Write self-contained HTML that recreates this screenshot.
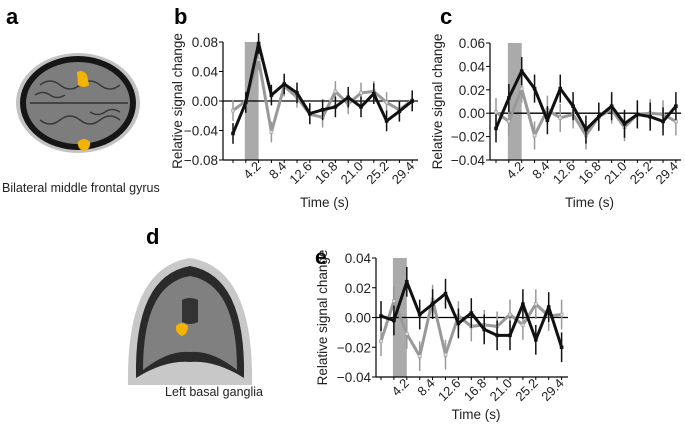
<!DOCTYPE html>
<html><head><meta charset="utf-8"><style>
body{margin:0;background:#fff;}
svg{display:block;font-family:"Liberation Sans",sans-serif;}
</style></head><body>
<svg id="fig" width="685" height="428" viewBox="0 0 685 428">
<g>
<text x="6" y="24" font-size="22" font-weight="bold">a</text>
<ellipse cx="78" cy="103" rx="62" ry="50" fill="#9a9a9a" opacity="0.6"/>
<ellipse cx="78" cy="103" rx="58" ry="47" fill="#161616"/>
<ellipse cx="78" cy="103" rx="52" ry="41" fill="#7d7d7d"/>
<path d="M30 103 H128" stroke="#444" stroke-width="2"/>
<path d="M40 85 q10 -8 20 0 t20 0 t20 0 t20 0 M40 120 q10 8 20 0 t20 0 t20 0 t20 0 M35 95 q8 -5 15 0 t15 0 M90 112 q8 5 15 0 t15 0" stroke="#3a3a3a" stroke-width="1.5" fill="none"/>
<path d="M77 72 q6 -3 10 3 l2 10 q-5 4 -11 0 z" fill="#f2b400"/>
<path d="M78 142 q6 -6 12 0 q1 7 -6 9 q-7 -2 -6 -9 z" fill="#f2b400"/>
<text x="2" y="192" font-size="12.5" fill="#222">Bilateral middle frontal gyrus</text>
</g>
<g>
<text x="146" y="244" font-size="22" font-weight="bold">d</text>
<path d="M128 385 Q126 268 190 258 Q254 268 252 385 Z" fill="#c8c8c8"/>
<path d="M136 378 Q134 276 190 266 Q246 276 244 378 Q215 360 190 362 Q165 360 136 378 Z" fill="#2a2a2a"/>
<path d="M143 370 Q143 284 190 276 Q237 284 237 370 Q212 350 190 352 Q168 350 143 370 Z" fill="#808080"/>
<path d="M182 300 q8 -4 16 0 v22 q-8 4 -16 0 z" fill="#333"/>
<path d="M176 326 q6 -6 12 0 q0 8 -6 10 q-7 -3 -6 -10z" fill="#f2b400"/>
<text x="165" y="396" font-size="12.5" fill="#222">Left basal ganglia</text>
</g>
<text x="174" y="24" font-size="22" font-weight="bold">b</text>
<text x="440" y="24" font-size="22" font-weight="bold">c</text>
<text x="315" y="264" font-size="21" font-weight="bold">e</text>
</svg>
<script>
const timeLabels=["4.2","8.4","12.6","16.8","21.0","25.2","29.4"];
const bTicks=[0.08,0.04,0.00,-0.04,-0.08];
const bBlack=[-0.044,-0.002,0.078,0.008,0.023,0.011,-0.017,-0.012,-0.008,0.005,-0.008,0.01,-0.027,-0.014,0.0];
const bGray=[-0.013,0,0.056,-0.042,0.02,0.005,-0.018,-0.022,0.013,-0.004,0.011,0.013,-0.002,-0.012,0.001];
const cTicks=[0.06,0.04,0.02,0.00,-0.02,-0.04];
const cBlack=[-0.013,0.013,0.036,0.021,-0.006,0.021,0.006,-0.014,-0.003,0.006,-0.009,-0.001,-0.003,-0.007,0.006];
const cGray=[0.001,-0.007,0.021,-0.019,0.003,-0.004,-0.001,-0.019,-0.003,0.003,-0.012,-0.001,0,-0.001,-0.007];
const eTicks=[0.04,0.02,0.00,-0.02,-0.04];
const eBlack=[0.001,-0.002,0.024,0.002,0.009,0.016,-0.004,0.003,-0.008,-0.012,-0.012,0.009,-0.015,0.007,-0.02];
const eGray=[-0.016,0.011,-0.011,-0.026,0.012,-0.025,0.001,-0.006,-0.005,-0.006,0.002,-0.005,0.009,0.001,0.002];
const bErr=0.014,cErr=0.012,eErr=0.01;
const NS="http://www.w3.org/2000/svg";
const svg=document.getElementById('fig');
function mk(tag,attrs,parent){const e=document.createElementNS(NS,tag);for(const k in attrs)e.setAttribute(k,attrs[k]);(parent||svg).appendChild(e);return e;}
function panel(id,cfg,black,gray,ticks,err){
 const g=mk('g',{});
 
 
 const ymin=ticks[ticks.length-1],ymax=ticks[0];
 const y=v=>cfg.bottom-(v-ymin)/(ymax-ymin)*(cfg.bottom-cfg.top);
 const x=i=>cfg.x0+i*cfg.dx;
 const bar=mk('rect',{x:x(1)-1,y:cfg.top,width:cfg.dx+1,height:cfg.bottom-cfg.top,fill:'#aaa'},g);
 
 
 const ya=mk('line',{x1:cfg.left,x2:cfg.left,y1:cfg.top,y2:cfg.bottom,stroke:'#000','stroke-width':1.2},g);
 
 
 const xa=mk('line',{x1:cfg.left,x2:cfg.right,y1:cfg.bottom,y2:cfg.bottom,stroke:'#000','stroke-width':1.2},g);
 
 
 const zl=mk('line',{x1:cfg.left,x2:cfg.right,y1:y(0),y2:y(0),stroke:'#000','stroke-width':1.3},g);
 
 
 ticks.forEach(t=>{
  mk('line',{x1:cfg.left-4,x2:cfg.left,y1:y(t),y2:y(t),stroke:'#000'},g);
  const tx=mk('text',{x:cfg.left-5,y:y(t)+5,'font-size':13.5,'text-anchor':'end',fill:'#222'},g);
  tx.textContent=(t<0?'\u2212':'')+Math.abs(t).toFixed(2);
  
  
 });
 for(let i=0;i<15;i++)mk('line',{x1:x(i),x2:x(i),y1:cfg.bottom,y2:cfg.bottom+3,stroke:'#000'},g);
 timeLabels.forEach((l,k)=>{
  const i=2*(k+1);
  const tx=mk('text',{x:x(i)+3,y:cfg.bottom+7,'font-size':13,'text-anchor':'end',fill:'#222',transform:`rotate(-45 ${x(i)+3} ${cfg.bottom+7})`},g);
  tx.textContent=l;
  
  
 });
 const yt=mk('text',{x:cfg.ylx,y:(cfg.top+cfg.bottom)/2,'font-size':13.5,'text-anchor':'middle',fill:'#222',transform:`rotate(-90 ${cfg.ylx} ${(cfg.top+cfg.bottom)/2})`},g);
 yt.textContent='Relative signal change';
 
 
 const xt=mk('text',{x:(cfg.left+cfg.right)/2+4,y:cfg.bottom+cfg.xty,'font-size':13.5,'text-anchor':'middle',fill:'#222'},g);
 xt.textContent='Time (s)';
 
 
 [[gray,'#999','gray'],[black,'#111','black']].forEach(([d,c,n])=>{
  d.forEach((v,i)=>{
   const eb=mk('line',{x1:x(i),x2:x(i),y1:y(v+err),y2:y(v-err),stroke:c,'stroke-width':1.5},g);
   
   
  });
  const pl=mk('polyline',{points:d.map((v,i)=>x(i)+','+y(v)).join(' '),fill:'none',stroke:c,'stroke-width':3,'stroke-linejoin':'miter'},g);
  
  
  d.forEach((v,i)=>{
   const p=mk('rect',{x:x(i)-1.5,y:y(v)-1.5,width:3,height:3,fill:n==='gray'?'#ddd':'#111',stroke:c,'stroke-width':0.6},g);
   
   
  });
 });
}
panel('panel-b',{left:223,right:418,top:42,bottom:160,x0:233,dx:12.8,ylx:182,xty:47},bBlack,bGray,bTicks,bErr);
panel('panel-c',{left:490,right:681,top:43,bottom:160,x0:496,dx:12.85,ylx:442,xty:47},cBlack,cGray,cTicks,cErr);
panel('panel-e',{left:376,right:568,top:258,bottom:377,x0:381,dx:12.9,ylx:327,xty:42},eBlack,eGray,eTicks,eErr);
</script>
</body></html>
